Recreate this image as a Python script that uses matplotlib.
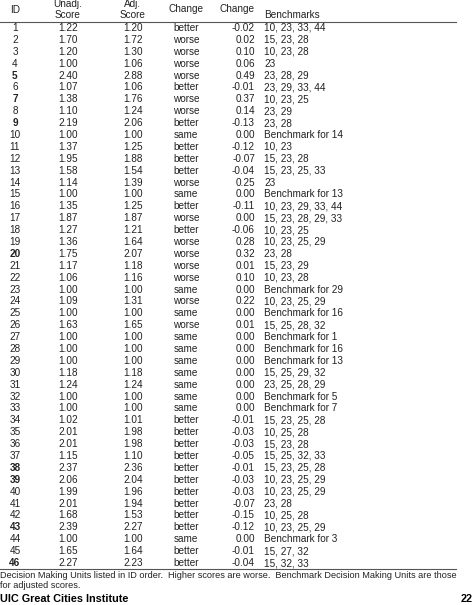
import matplotlib
matplotlib.use("Agg")
import matplotlib.pyplot as plt

ids = list(range(1, 47))
unadj = [1.22,1.70,1.20,1.00,2.40,1.07,1.38,1.10,2.19,1.00,1.37,1.95,1.58,1.14,1.00,1.35,1.87,1.27,1.36,1.75,1.17,1.06,1.00,1.09,1.00,1.63,1.00,1.00,1.00,1.18,1.24,1.00,1.00,1.02,2.01,2.01,1.15,2.37,2.06,1.99,2.01,1.68,2.39,1.00,1.65,2.27]
adj = [1.20,1.72,1.30,1.06,2.88,1.06,1.76,1.24,2.06,1.00,1.25,1.88,1.54,1.39,1.00,1.25,1.87,1.21,1.64,2.07,1.18,1.16,1.00,1.31,1.00,1.65,1.00,1.00,1.00,1.18,1.24,1.00,1.00,1.01,1.98,1.98,1.10,2.36,2.04,1.96,1.94,1.53,2.27,1.00,1.64,2.23]
change_word = ["better","worse","worse","worse","worse","better","worse","worse","better","same","better","better","better","worse","same","better","worse","better","worse","worse","worse","worse","same","worse","same","worse","same","same","same","same","same","same","same","better","better","better","better","better","better","better","better","better","better","same","better","better"]
change_val = [-0.02,0.02,0.10,0.06,0.49,-0.01,0.37,0.14,-0.13,0.00,-0.12,-0.07,-0.04,0.25,0.00,-0.11,0.00,-0.06,0.28,0.32,0.01,0.10,0.00,0.22,0.00,0.01,0.00,0.00,0.00,0.00,0.00,0.00,0.00,-0.01,-0.03,-0.03,-0.05,-0.01,-0.03,-0.03,-0.07,-0.15,-0.12,0.00,-0.01,-0.04]
benchmarks = ["10, 23, 33, 44","15, 23, 28","10, 23, 28","23","23, 28, 29","23, 29, 33, 44","10, 23, 25","23, 29","23, 28","Benchmark for 14","10, 23","15, 23, 28","15, 23, 25, 33","23","Benchmark for 13","10, 23, 29, 33, 44","15, 23, 28, 29, 33","10, 23, 25","10, 23, 25, 29","23, 28","15, 23, 29","10, 23, 28","Benchmark for 29","10, 23, 25, 29","Benchmark for 16","15, 25, 28, 32","Benchmark for 1","Benchmark for 16","Benchmark for 13","15, 25, 29, 32","23, 25, 28, 29","Benchmark for 5","Benchmark for 7","15, 23, 25, 28","10, 25, 28","15, 23, 28","15, 25, 32, 33","15, 23, 25, 28","10, 23, 25, 29","10, 23, 25, 29","23, 28","10, 25, 28","10, 23, 25, 29","Benchmark for 3","15, 27, 32","15, 32, 33"]
bold_ids = [5, 7, 9, 20, 38, 39, 43, 46]

W, H = 474, 605
fig = plt.figure(figsize=(W/100, H/100), dpi=100)
ax = fig.add_axes([0, 0, 1, 1])
ax.set_xlim(0, W); ax.set_ylim(H, 0); ax.axis("off")
plt.rcParams['font.family'] = ['Liberation Sans', 'DejaVu Sans']
fs = 7.2
gray = "#222222"
kw = dict(fontsize=fs, color=gray, va="center")

# header
ax.text(15, 10, "ID", ha="center", **kw)
ax.text(68, 4, "Unadj.", ha="center", **kw)
ax.text(68, 15, "Score", ha="center", **kw)
ax.text(133, 4, "Adj.", ha="center", **kw)
ax.text(133, 15, "Score", ha="center", **kw)
ax.text(186, 9, "Change", ha="center", **kw)
ax.text(237, 9, "Change", ha="center", **kw)
ax.text(264, 15, "Benchmarks", ha="left", **kw)
ax.plot([0, 456], [22, 22], color="#555555", lw=0.8)

y0, dy = 28, (563 - 28) / 45
for i in range(46):
    y = y0 + i * dy
    ax.text(15, y, str(ids[i]), ha="center", fontweight="bold" if ids[i] in bold_ids else "normal", **kw)
    ax.text(68, y, f"{unadj[i]:.2f}", ha="center", **kw)
    ax.text(133, y, f"{adj[i]:.2f}", ha="center", **kw)
    ax.text(186, y, change_word[i], ha="center", **kw)
    ax.text(255, y, f"{change_val[i]:.2f}", ha="right", **kw)
    ax.text(264, y, benchmarks[i], ha="left", **kw)

ax.plot([0, 456], [569, 569], color="#555555", lw=0.8)
fkw = dict(kw, fontsize=6.6)
ax.text(0, 576, "Decision Making Units listed in ID order.  Higher scores are worse.  Benchmark Decision Making Units are those", ha="left", **fkw)
ax.text(0, 586, "for adjusted scores.", ha="left", **fkw)
ax.text(0, 599, "UIC Great Cities Institute", ha="left", fontsize=7.8, fontweight="bold", color="black", va="center")
ax.text(473, 599, "22", ha="right", fontsize=7.8, fontweight="bold", color="black", va="center")

fig.savefig("out.png", dpi=100)
